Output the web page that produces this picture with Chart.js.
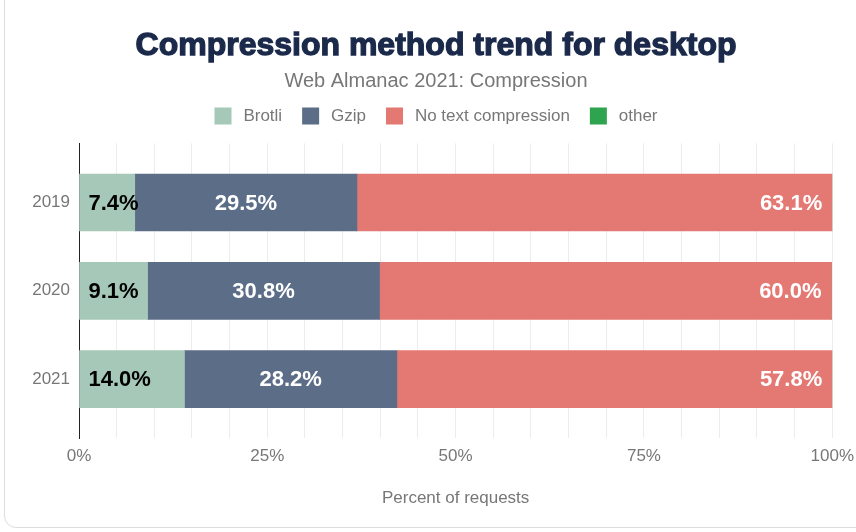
<!DOCTYPE html>
<html>
<head>
<meta charset="utf-8">
<script src="https://cdn.jsdelivr.net/npm/chart.js@4/dist/chart.umd.min.js"></script>
<style>
  html, body { margin: 0; padding: 0; background: #fff; overflow: hidden; }
  #frame {
    position: absolute; left: 4px; top: -20px;
    width: 866px; height: 546px;
    border: 1px solid #ddd; border-radius: 12px;
  }
  #chart { position: absolute; left: 5px; top: 0; }
</style>
</head>
<body>
<div id="frame"><canvas id="chart" width="852" height="546"></canvas></div>
<script>
// Data
const years = ['2019', '2020', '2021'];
const brotli = [7.4, 9.1, 14.0];
const gzip = [29.5, 30.8, 28.2];
const noCompression = [63.1, 60.0, 57.8];
const other = [0.0, 0.0, 0.0];
const xTicks = [0, 25, 50, 75, 100];

const toPoints = (arr) => arr.map((v, i) => ({ x: v, y: i }));
const font = '"Liberation Sans", Arial, Helvetica, sans-serif';
const titleColor = '#1b2a4a';

// labels painted inside the bars
const barLabels = {
    id: 'barLabels',
    afterDatasetsDraw(chart) {
        const ctx = chart.ctx;
        ctx.save();
        ctx.font = 'bold 22px ' + font;
        ctx.textBaseline = 'middle';
        chart.data.datasets.forEach((ds, di) => {
            if (di > 2) return;
            const meta = chart.getDatasetMeta(di);
            meta.data.forEach((bar, i) => {
                const text = ds.data[i].x.toFixed(1) + '%';
                if (di === 0) {
                    ctx.textAlign = 'left';
                    ctx.fillStyle = '#000';
                    ctx.fillText(text, bar.base + 9, bar.y + 1);
                } else if (di === 1) {
                    ctx.textAlign = 'center';
                    ctx.fillStyle = '#fff';
                    ctx.fillText(text, (bar.base + bar.x) / 2, bar.y + 1);
                } else {
                    ctx.textAlign = 'right';
                    ctx.fillStyle = '#fff';
                    ctx.fillText(text, bar.x - 10, bar.y + 1);
                }
            });
        });
        ctx.restore();
    }
};

// a bit more room under the legend, and a heavier title
const layoutTweaks = {
    id: 'layoutTweaks',
    beforeLayout(chart) {
        const lg = chart.legend;
        if (lg && !lg._padded) {
            const fit = lg.fit.bind(lg);
            lg.fit = function () { fit(); this.height += 9; };
            lg._padded = true;
        }
    },
    afterDraw(chart) {
        const t = chart.titleBlock;
        if (!t) return;
        const ctx = chart.ctx;
        const opts = t.options;
        ctx.save();
        ctx.font = 'bold ' + opts.font.size + 'px ' + font;
        ctx.textAlign = 'center';
        ctx.textBaseline = 'middle';
        ctx.strokeStyle = titleColor;
        ctx.lineWidth = 1.3;
        const lh = opts.font.size * 1.2;
        ctx.strokeText(opts.text, (t.left + t.right) / 2, t.top + opts.padding.top + lh / 2);
        ctx.restore();
    }
};

new Chart(document.getElementById('chart'), {
    type: 'bar',
    data: {
        datasets: [
            { label: 'Brotli', data: toPoints(brotli), backgroundColor: '#a6c8b9' },
            { label: 'Gzip', data: toPoints(gzip), backgroundColor: '#5c6d87' },
            { label: 'No text compression', data: toPoints(noCompression), backgroundColor: '#e47873' },
            { label: 'other', data: toPoints(other), backgroundColor: '#2ea44f' }
        ]
    },
    options: {
        indexAxis: 'y',
        responsive: false,
        animation: false,
        layout: { padding: { left: 0, right: 0, top: 0, bottom: 18 } },
        datasets: { bar: { barThickness: 57, borderWidth: 0 } },
        scales: {
            x: {
                type: 'linear',
                stacked: true,
                min: 0,
                max: 100,
                grid: { color: '#ececec', drawTicks: false },
                border: { display: false },
                ticks: {
                    stepSize: 5,
                    padding: 8,
                    color: '#777',
                    font: { family: font, size: 17 },
                    autoSkip: false,
                    maxRotation: 0,
                    callback: (v) => xTicks.includes(v) ? v + '%' : ''
                },
                title: {
                    display: true,
                    text: 'Percent of requests',
                    color: '#777',
                    font: { family: font, size: 17 },
                    padding: { top: 14, bottom: 0 }
                }
            },
            y: {
                type: 'linear',
                stacked: true,
                reverse: true,
                offset: false,
                min: -0.67,
                max: 2.67,
                afterBuildTicks: (axis) => { axis.ticks = years.map((_, i) => ({ value: i })); },
                afterFit: (axis) => { axis.width = 69; },
                grid: { display: false, drawTicks: false },
                border: { display: true, color: '#222', width: 1 },
                ticks: {
                    color: '#777',
                    padding: 9,
                    font: { family: font, size: 17 },
                    callback: (v) => years[v]
                }
            }
        },
        plugins: {
            title: {
                display: true,
                text: 'Compression method trend for desktop',
                color: titleColor,
                font: { family: font, size: 32, weight: 'bold', lineHeight: 1.2 },
                padding: { top: 46, bottom: 0 }
            },
            subtitle: {
                display: true,
                text: 'Web Almanac 2021: Compression',
                color: '#777',
                font: { family: font, size: 20, lineHeight: 0.6 },
                padding: { top: 10, bottom: 0 }
            },
            legend: {
                labels: {
                    boxWidth: 17,
                    boxHeight: 17,
                    padding: 20,
                    color: '#777',
                    font: { family: font, size: 17 },
                    generateLabels: (chart) => Chart.defaults.plugins.legend.labels.generateLabels(chart)
                        .map((item) => ({ ...item, text: '\u2009' + item.text }))
                }
            },
            tooltip: { enabled: false }
        }
    },
    plugins: [barLabels, layoutTweaks]
});
</script>
</body>
</html>
